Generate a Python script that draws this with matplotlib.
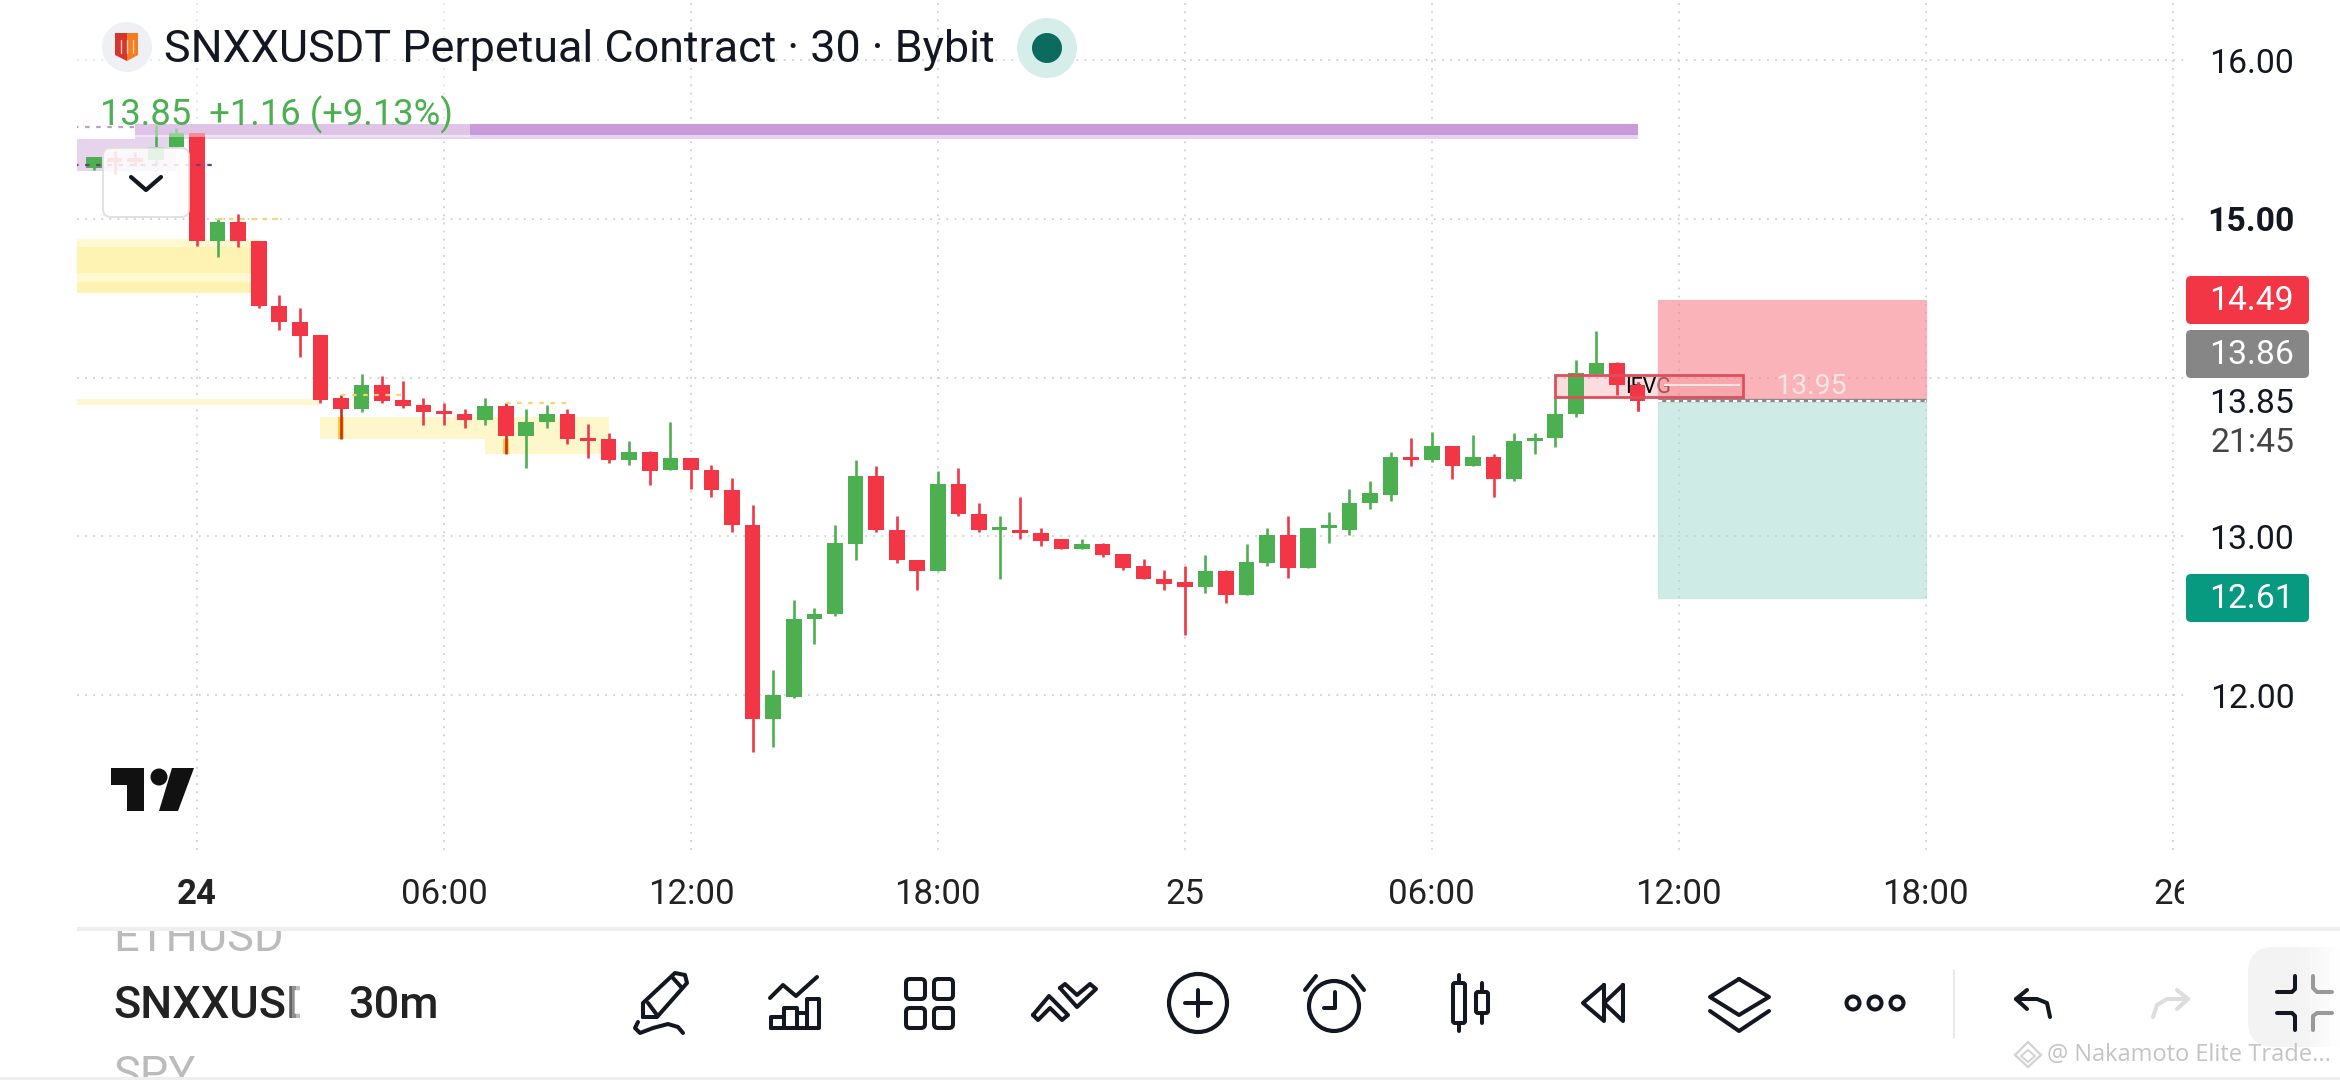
import matplotlib
matplotlib.use("Agg")
import matplotlib.pyplot as plt
from matplotlib.patches import Rectangle, FancyBboxPatch, Circle, Polygon

plt.rcParams['font.family'] = ['Roboto', 'DejaVu Sans']

# candles, 30m bars, first one is 5 bars before the "24" tick
first_bar = -5
opens = [15.32, 15.38, 15.38, 15.37, 15.45, 15.54, 14.86, 14.98, 14.86, 14.45, 14.35, 14.27, 13.87, 13.80, 13.95, 13.86,
         13.83, 13.79, 13.77, 13.73, 13.82, 13.63, 13.72, 13.77, 13.62, 13.61, 13.48, 13.53, 13.42, 13.49, 13.42, 13.29,
         13.07, 11.85, 11.99, 12.48, 12.51, 12.95, 13.38, 13.04, 12.85, 12.78, 13.33, 13.14, 13.04, 13.04, 13.02, 12.98,
         12.92, 12.95, 12.89, 12.81, 12.73, 12.71, 12.68, 12.78, 12.63, 12.83, 13.01, 12.80, 13.05, 13.04, 13.21, 13.26,
         13.50, 13.48, 13.57, 13.44, 13.50, 13.36, 13.60, 13.62, 13.77, 14.02, 14.09, 13.95]
closes = [15.39, 15.36, 15.36, 15.45, 15.54, 14.86, 14.98, 14.86, 14.45, 14.35, 14.26, 13.86, 13.80, 13.95, 13.85, 13.82,
          13.78, 13.77, 13.73, 13.82, 13.63, 13.72, 13.77, 13.61, 13.60, 13.48, 13.53, 13.41, 13.49, 13.42, 13.29, 13.07,
          11.85, 12.00, 12.48, 12.51, 12.96, 13.38, 13.04, 12.85, 12.78, 13.33, 13.14, 13.04, 13.06, 13.02, 12.97, 12.92,
          12.95, 12.88, 12.80, 12.73, 12.70, 12.68, 12.78, 12.63, 12.84, 13.01, 12.80, 13.05, 13.07, 13.21, 13.27, 13.50,
          13.48, 13.57, 13.44, 13.50, 13.36, 13.60, 13.62, 13.77, 14.03, 14.09, 13.95, 13.85]
highs = [15.39, 15.43, 15.42, 15.59, 15.57, 15.54, 15.00, 15.03, 14.86, 14.52, 14.44, 14.27, 13.89, 14.02, 14.01, 13.98,
         13.87, 13.84, 13.80, 13.87, 13.84, 13.80, 13.83, 13.80, 13.71, 13.65, 13.60, 13.54, 13.72, 13.49, 13.45, 13.37,
         13.20, 12.16, 12.60, 12.55, 13.07, 13.48, 13.44, 13.13, 12.85, 13.41, 13.43, 13.21, 13.13, 13.25, 13.05, 12.98,
         12.98, 12.96, 12.89, 12.86, 12.79, 12.81, 12.88, 12.79, 12.95, 13.05, 13.13, 13.05, 13.15, 13.30, 13.35, 13.53,
         13.62, 13.66, 13.57, 13.64, 13.52, 13.65, 13.65, 13.88, 14.11, 14.29, 14.10, 13.97]
lows = [15.31, 15.28, 15.33, 15.33, 15.45, 14.83, 14.76, 14.82, 14.44, 14.30, 14.13, 13.84, 13.61, 13.78, 13.84, 13.81,
        13.70, 13.70, 13.68, 13.70, 13.52, 13.43, 13.68, 13.58, 13.49, 13.46, 13.45, 13.32, 13.42, 13.30, 13.25, 13.03,
        11.64, 11.67, 11.98, 12.32, 12.50, 12.85, 13.03, 12.83, 12.66, 12.78, 13.13, 13.03, 12.73, 12.98, 12.94, 12.92,
        12.92, 12.87, 12.79, 12.73, 12.66, 12.38, 12.64, 12.58, 12.63, 12.81, 12.74, 12.80, 12.96, 13.01, 13.17, 13.22,
        13.44, 13.47, 13.36, 13.44, 13.25, 13.35, 13.52, 13.56, 13.75, 14.02, 13.89, 13.79]

price_ticks = [12, 13, 14, 15, 16]
price_labels = ['12.00', '13.00', '', '15.00', '16.00']
time_ticks = [0, 12, 24, 36, 48, 60, 72, 84, 96]
time_labels = ['24', '06:00', '12:00', '18:00', '25', '06:00', '12:00', '18:00', '26']

stop_price = 14.49
entry_price = 13.86
last_price = 13.85
target_price = 12.61
box_left, box_right = 71, 84

# zones: left bar, right bar, low, high, colour
yellow_zones = [(-6, 3, 14.53, 14.87, '#fff8d0'), (-6, 3, 14.53, 14.60, '#fff3b4'), (-6, 3, 14.66, 14.82, '#fff3b4'),
                (-6, 6, 13.83, 13.865, '#fdf7d2'), (6, 20, 13.61, 13.75, '#fff7cc'), (14, 20, 13.52, 13.61, '#fff7cc')]
purple_zones = [(-3, 70, 15.53, 15.60, '#c99ad9'), (-3, 70, 15.50, 15.53, '#e6d3ee'), (-6, -1, 15.30, 15.50, '#e6d4ec')]

fig = plt.figure(figsize=(23.4, 10.8), dpi=100, facecolor='white')
ax = fig.add_axes([77 / 2340, 230 / 1080, 2107 / 2340, 850 / 1080])
ax.set_xlim(-5.83, 96.55)
ax.set_ylim(11.024, 16.378)

for x0, x1, lo, hi, col in yellow_zones + purple_zones:
    ax.add_patch(Rectangle((x0, lo), x1 - x0, hi - lo, fc=col, ec='none', zorder=1))

ax.grid(True, color='#d0d0d0', linestyle=(0, (1, 3.5)), linewidth=1.3, zorder=0.5)
ax.set_axisbelow(True)

bars = list(range(first_bar, first_bar + len(opens)))
up = '#4caf50'
down = '#f23645'
cols = [up if c >= o else down for o, c in zip(opens, closes)]

# yellow marks under the two long lower wicks in the zone
for i in (7, 15):
    ax.vlines(i, lows[i - first_bar], 13.75 if i == 7 else 13.61, color='#f8c838', lw=4.2, zorder=1.5)

wick_cols = list(cols)
wick_cols[7 - first_bar] = '#c8301c'
wick_cols[15 - first_bar] = '#c8301c'
ax.vlines(bars, lows, highs, colors=wick_cols, lw=1.9, zorder=2)
ax.bar(bars, [abs(c - o) for o, c in zip(opens, closes)], bottom=[min(o, c) for o, c in zip(opens, closes)],
       width=0.76, color=cols, linewidth=0, zorder=2.2)

# short dotted lines
for x0, x1, y, col in [(1, 4, 15.0, '#f4d66a'), (7, 10, 13.89, '#f4d66a'), (15, 18, 13.84, '#f4d66a'),
                       (-6, -3, 15.58, '#8a5a90'), (-6, 1, 15.34, '#7a3a80')]:
    ax.hlines(y, x0, x1, color=col, lw=1.6, linestyle=(0, (2, 3)), zorder=2.5)

# long/short position box
ax.add_patch(Rectangle((box_left, entry_price), box_right - box_left, stop_price - entry_price,
                       fc='#f7868f', alpha=0.62, ec='#f0a0a8', lw=1, zorder=3))
ax.add_patch(Rectangle((box_left, target_price), box_right - box_left, entry_price - target_price,
                       fc='#a8dcd0', alpha=0.55, ec='#b5e0d8', lw=1, zorder=3))
ax.hlines(entry_price, box_left, box_right, color='#888888', lw=2.4, zorder=3.2)
ax.hlines(last_price, box_left, box_right, color='white', lw=1.5, linestyle=(0, (2, 2)), zorder=3.2)
ax.text(78.45, 13.945, '13.95', color='white', alpha=0.65, fontsize=20.5, ha='center', va='center', zorder=3.4)

# IFVG box
ax.add_patch(Rectangle((66, 13.88), 9.1, 0.135, fc='#f23645', alpha=0.17, ec='none', zorder=1.8))
ax.add_patch(Rectangle((66, 13.88), 9.1, 0.135, fc='none', ec='#dd4f5c', lw=2, zorder=3.5))
ax.hlines(13.95, 71.3, 75, color='#ffe4e6', lw=1.5, zorder=3.5)
ax.text(70.5, 13.935, 'IFVG', fontsize=15.5, color='black', ha='center', va='center', zorder=2.1)
ax.vlines(70, 13.79, 13.97, color=down, lw=1.9, zorder=2.3)
ax.bar([70], [0.1], bottom=[13.85], width=0.76, color=down, linewidth=0, zorder=2.3)

for s in ax.spines.values():
    s.set_visible(False)
ax.yaxis.tick_right()
ax.set_yticks(price_ticks)
ax.set_yticklabels(price_labels, ha='right')
ax.set_xticks(time_ticks)
ax.set_xticklabels(time_labels)
ax.tick_params(axis='y', length=0, pad=79.5, labelsize=24.3, labelcolor='#131722')
ax.tick_params(axis='x', length=0, pad=20, labelsize=25, labelcolor='#222222')
ax.get_xticklabels()[0].set_fontweight('bold')
ax.get_yticklabels()[3].set_fontweight('bold')

# interface layer in screen pixels
ui = fig.add_axes([0, 0, 1, 1], zorder=5)
ui.set_xlim(0, 2340)
ui.set_ylim(1080, 0)
ui.axis('off')
ui.patch.set_alpha(0)


def rbox(x0, y0, x1, y1, r, **kw):
    ui.add_patch(FancyBboxPatch((x0 + r, y0 + r), x1 - x0 - 2 * r, y1 - y0 - 2 * r,
                                boxstyle=f'round,pad={r},rounding_size={r}', **kw))


def stroke(pts, col='#131722', lw=2.9, **kw):
    ui.plot([p[0] for p in pts], [p[1] for p in pts], color=col, lw=lw, solid_capstyle='round',
            solid_joinstyle='round', **kw)


# legend backdrop and collapse button
ui.add_patch(Rectangle((77, 0), 393, 137, fc='white', alpha=0.42, ec='none'))
rbox(103, 148, 189, 217, 8, fc='white', ec='#dddddd', lw=1.4, alpha=0.86)
stroke([(131, 177), (146, 190), (161, 177)], lw=3)

# symbol logo
ui.add_patch(Circle((127, 47), 25, fc='#eef0f6', ec='none'))
ui.add_patch(Polygon([(115, 33), (127, 33), (127, 61), (115, 55)], fc='#d6342c', ec='none'))
ui.add_patch(Polygon([(127, 33), (138, 33), (138, 55), (127, 61)], fc='#f57c1f', ec='none'))
for x in (121, 127, 133):
    stroke([(x, 40), (x, 53)], col='#f5cdb0', lw=1)

ui.text(164, 50, 'SNXXUSDT Perpetual Contract · 30 · Bybit', fontsize=32.3, color='#131722', va='center')
ui.text(100, 115, '13.85  +1.16 (+9.13%)', fontsize=26.2, color='#4caf50', va='center')
ui.add_patch(Circle((1047, 48), 30, fc='#d5eeea', ec='none'))
ui.add_patch(Circle((1047, 48), 15, fc='#0b6b5e', ec='none'))

# TradingView mark
ui.add_patch(Polygon([(111, 768), (144, 768), (144, 811), (127, 811), (127, 785), (111, 785)], fc='#111111', ec='none'))
ui.add_patch(Circle((159, 777), 8.5, fc='#111111', ec='none'))
ui.add_patch(Polygon([(172, 768), (194, 768), (178, 811), (159, 811)], fc='#111111', ec='none'))

# price badges
for y0, col, txt in [(276, '#f23645', '14.49'), (330, '#868686', '13.86'), (574, '#089981', '12.61')]:
    rbox(2186, y0, 2309, y0 + 48, 5, fc=col, ec='none')
    ui.text(2294, y0 + 25, txt, color='white', fontsize=24.3, ha='right', va='center')
ui.text(2294, 404, '13.85', color='#131722', fontsize=24.3, ha='right', va='center')
ui.text(2294, 443, '21:45', color='#444444', fontsize=24.3, ha='right', va='center')

# hides the part of the "26" label past the chart edge
ui.add_patch(Rectangle((2184, 860), 60, 60, fc='white', ec='none'))

# bottom bar
ui.text(113, 951, 'ETHUSD', fontsize=32.5, color='#bbbbbb', va='baseline')
ui.add_patch(Rectangle((100, 908), 220, 21, fc='white', ec='none', zorder=3))
ui.add_patch(Rectangle((77, 927), 2263, 4, fc='#eeeeee', ec='none', zorder=4))
ui.text(113, 1018, 'SNXXUSDT', fontsize=32.5, color='#222222', va='baseline', weight=500)
for x, a in [(288, 0.3), (292, 0.5), (296, 0.7)]:
    ui.add_patch(Rectangle((x, 980), 4, 45, fc='white', alpha=a, ec='none', zorder=3))
ui.add_patch(Rectangle((300, 980), 45, 45, fc='white', ec='none', zorder=3))
ui.text(348, 1018, '30m', fontsize=32.5, color='#222222', va='baseline', weight=500, zorder=4)
ui.text(113, 1088, 'SPY', fontsize=32.5, color='#bbbbbb', va='baseline', clip_on=True)
ui.add_patch(Rectangle((0, 1077), 2340, 3, fc='#eeeeee', ec='none', zorder=4))

# pencil
stroke([(643, 1017), (643, 1003), (675, 973), (685, 975), (687, 983), (657, 1017), (643, 1017)])
stroke([(648, 1003), (657, 1015)])
stroke([(673, 978), (682, 988)])
stroke([(638, 1022), (635, 1028), (640, 1033), (653, 1028), (668, 1024), (678, 1027), (683, 1033)])
# chart with bars
stroke([(770, 998), (783, 985), (796, 996), (817, 977)])
stroke([(771, 1028), (771, 1017), (784, 1017), (784, 1008), (797, 1008), (797, 1013), (807, 1013), (807, 999),
        (819, 999), (819, 1028), (771, 1028)])
stroke([(784, 1017), (784, 1028)])
stroke([(797, 1013), (797, 1028)])
stroke([(807, 1013), (807, 1028)])
# grid
for x0 in (906, 934):
    for y0 in (979, 1008):
        rbox(x0, y0, x0 + 19, y0 + 20, 4, fc='none', ec='#131722', lw=2.9)
# chevrons
stroke([(1033, 1015), (1049, 996), (1068, 1015), (1062, 1020), (1050, 1008), (1038, 1020), (1033, 1015)])
stroke([(1060, 988), (1077, 1007), (1096, 989), (1090, 984), (1077, 995), (1065, 984), (1060, 988)])
# plus in circle
ui.add_patch(Circle((1198, 1003), 29, fc='none', ec='#131722', lw=3))
stroke([(1198, 990), (1198, 1016)])
stroke([(1185, 1003), (1211, 1003)])
# alarm
ui.add_patch(Circle((1334, 1006), 25, fc='none', ec='#131722', lw=3))
stroke([(1335, 992), (1335, 1008), (1324, 1008)])
stroke([(1305, 990), (1316, 976)])
stroke([(1364, 990), (1353, 976)])
# candles icon
rbox(1453, 983, 1465, 1023, 2, fc='none', ec='#131722', lw=2.9)
stroke([(1459, 975), (1459, 983)])
stroke([(1459, 1023), (1459, 1031)])
rbox(1476, 992, 1488, 1013, 2, fc='none', ec='#131722', lw=2.9)
stroke([(1482, 983), (1482, 992)])
stroke([(1482, 1013), (1482, 1023)])
# rewind
stroke([(1604, 985), (1583, 1003), (1604, 1021), (1604, 985)])
stroke([(1623, 985), (1604, 1003), (1623, 1021), (1623, 985)])
# layers
stroke([(1739, 979), (1769, 997), (1739, 1015), (1710, 997), (1739, 979)])
stroke([(1710, 1011), (1739, 1031), (1769, 1011)])
# more
for x in (1853, 1875, 1897):
    ui.add_patch(Circle((x, 1003), 6.5, fc='none', ec='#131722', lw=2.9))
stroke([(1954, 970), (1954, 1038)], col='#e8e8e8', lw=1.4)
# undo / redo
stroke([(2027, 990), (2016, 999), (2027, 1009)])
stroke([(2016, 999), (2037, 999), (2047, 1003), (2050, 1017)])
stroke([(2177, 990), (2188, 999), (2177, 1009)], col='#dddddd')
stroke([(2188, 999), (2167, 999), (2157, 1005), (2153, 1017)], col='#dddddd')
# compress button, fades out to the right
rbox(2248, 947, 2400, 1047, 26, fc='#f3f3f3', ec='none')
for k, x in enumerate(range(2300, 2340, 5)):
    ui.add_patch(Rectangle((x, 945), 5, 105, fc='white', alpha=0.12 * (k + 1), ec='none'))
stroke([(2277, 992), (2292, 992), (2295, 989), (2295, 976)])
stroke([(2277, 1013), (2292, 1013), (2295, 1016), (2295, 1030)])
stroke([(2313, 976), (2313, 988), (2317, 992), (2332, 992)], col='#999999')
stroke([(2313, 1030), (2313, 1016), (2317, 1013), (2332, 1013)], col='#999999')

# watermark
ui.text(2047, 1055, '@ Nakamoto Elite Trade...', fontsize=17, color='#c4c4c4', va='center', zorder=6, family='Open Sans')
ui.add_patch(Polygon([(2028, 1042), (2041, 1055), (2028, 1067), (2015, 1055)], fc='none', ec='#d2d2d2', lw=1.6, zorder=6))
ui.add_patch(Polygon([(2028, 1050), (2035, 1056), (2028, 1062), (2021, 1056)], fc='none', ec='#d2d2d2', lw=1.4, zorder=6))

fig.savefig('out.png', dpi=100, facecolor='white')
